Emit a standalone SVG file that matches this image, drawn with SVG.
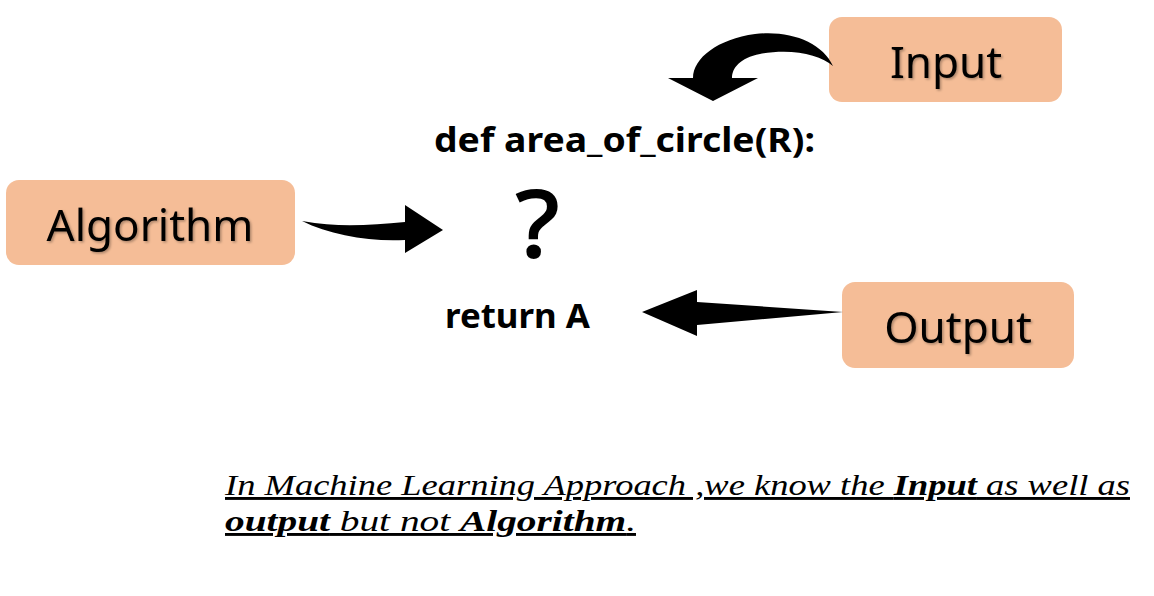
<svg xmlns="http://www.w3.org/2000/svg" width="1154" height="596" viewBox="0 0 1154 596">
<defs>
<style>
.box{fill:#F5BD97;}
.lbl{font-family:"Noto Sans","Open Sans",sans-serif;font-size:44px;fill:#000;text-anchor:middle;}
.code{font-family:"Noto Sans","Open Sans",sans-serif;font-weight:bold;font-size:34px;fill:#000;}
.arrow{fill:#000;}
.note{font-family:"Liberation Serif",serif;font-style:italic;font-size:29px;fill:#000;text-decoration:underline;}
</style>
<filter id="sh" x="-10%" y="-10%" width="120%" height="130%">
<feDropShadow dx="1.5" dy="1.5" stdDeviation="1" flood-color="#000" flood-opacity="0.3"/>
</filter>
</defs>
<rect width="1154" height="596" fill="#fff"/>
<g id="input">
<rect class="box" x="829" y="17" width="233" height="85" rx="13"/>
<text class="lbl" x="946" y="78" filter="url(#sh)">Input</text>
</g>
<g id="algorithm">
<rect class="box" x="6" y="180" width="289" height="85" rx="13"/>
<text class="lbl" x="150" y="241" filter="url(#sh)">Algorithm</text>
</g>
<g id="output">
<rect class="box" x="842" y="282" width="232" height="86" rx="13"/>
<text class="lbl" x="958" y="343" filter="url(#sh)">Output</text>
</g>
<g id="function">
<text class="code" x="434" y="152" textLength="381" lengthAdjust="spacingAndGlyphs">def area_of_circle(R):</text>
<text x="516" y="257" font-family="Noto Sans, sans-serif" font-size="92" fill="#000" stroke="#000" stroke-width="2.2" textLength="43" lengthAdjust="spacingAndGlyphs">?</text>
<text class="code" x="445" y="328" textLength="145" lengthAdjust="spacingAndGlyphs">return A</text>
</g>
<g id="connectors">
<path class="arrow" d="M833,66 C822,42 790,30 755,34 C718,39 693,58 693,78 L668,78 L713,101 L758,78 L732,78 C732,68 740,58 760,54 C790,48 820,54 833,66 Z"/>
<path class="arrow" d="M302,221 C340,228 370,225 405,222 L405,205 L443,230 L405,253 L405,240 C370,242 330,235 302,221 Z"/>
<path class="arrow" d="M843,312 L697,302 L697,290 L642,312 L697,336 L697,325 Z"/>
</g>
<g id="note">
<text class="note" x="225" y="495" textLength="905" lengthAdjust="spacingAndGlyphs">In Machine Learning Approach ,we know the <tspan font-weight="bold">Input</tspan>  as well as</text>
<text class="note" x="225" y="531" textLength="411" lengthAdjust="spacingAndGlyphs"><tspan font-weight="bold">output</tspan> but not <tspan font-weight="bold">Algorithm</tspan>.</text>
</g>
</svg>
